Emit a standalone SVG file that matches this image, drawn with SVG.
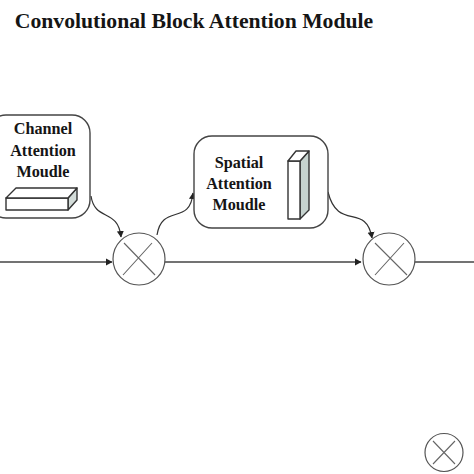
<svg xmlns="http://www.w3.org/2000/svg" width="474" height="474" viewBox="0 0 474 474">
<style>
text{font-family:"Liberation Serif","Times New Roman",serif;font-weight:bold;fill:#151515;text-anchor:middle}
.l{font-size:16.2px}
.box{fill:#fff;stroke:#444;stroke-width:1.4}
.circ{fill:#fff;stroke:#555;stroke-width:1.2}
.x{stroke:#666;stroke-width:1.1;fill:none}
.edge{fill:none;stroke:#333;stroke-width:1.2}
.main{fill:none;stroke:#444;stroke-width:1.7}
.cub{stroke:#333;stroke-width:1.4;stroke-linejoin:round}
</style>
<defs>
<marker id="a" markerUnits="userSpaceOnUse" markerWidth="7" markerHeight="8" refX="6" refY="4" orient="auto"><path d="M0 0.5L6.5 4L0 7.5Z" fill="#222"/></marker>
</defs>
<rect width="474" height="474" fill="#fff"/>
<text id="title" x="194" y="28" font-size="21.7">Convolutional Block Attention Module</text>
<g id="connectors">
<path class="main" d="M0 262H112" marker-end="url(#a)"/>
<path class="main" d="M165 262H361" marker-end="url(#a)"/>
<path class="main" d="M415 262H474"/>
<path class="edge" d="M91 196C95 222 118 208 121 237" marker-end="url(#a)"/>
<path class="edge" d="M157 235C162 203 190 226 193 193" marker-end="url(#a)"/>
<path class="edge" d="M328 192C338 232 366 202 372 238" marker-end="url(#a)"/>
</g>
<g id="channel">
<rect class="box" x="-12" y="115" width="102" height="103" rx="18"/>
<text class="l" x="43" y="134">Channel</text>
<text class="l" x="43" y="155.500">Attention</text>
<text class="l" x="43" y="177">Moudle</text>
<path class="cub" fill="#d3dcd9" d="M68 198L77 188V200L68 210Z"/>
<path class="cub" fill="#fff" d="M6 198H68V210H6Z"/>
<path class="cub" fill="#fff" d="M6 198L16 188H77L68 198Z"/>
</g>
<g id="spatial">
<rect class="box" x="194" y="136" width="134" height="92" rx="18"/>
<text class="l" x="239" y="167.500">Spatial</text>
<text class="l" x="239" y="188.500">Attention</text>
<text class="l" x="239" y="209.500">Moudle</text>
<path class="cub" fill="#c6d3cf" d="M300 161L309 151V210L300 219Z"/>
<path class="cub" fill="#fff" d="M288 161H300V219H288Z"/>
<path class="cub" fill="#fff" d="M288 161L296 151H309L300 161Z"/>
</g>
<g id="mult1">
<circle class="circ" cx="139" cy="259" r="26"/>
<path class="x" d="M124 243L155 275M152 243L123 275"/>
</g>
<g id="mult2">
<circle class="circ" cx="389" cy="259" r="26"/>
<path class="x" d="M375 243L407 275M404 243L375 275"/>
</g>
<g id="legend">
<circle class="circ" cx="444" cy="452.500" r="19"/>
<path class="x" d="M433 441L455 464M455 441L433 464"/>
</g>
</svg>
